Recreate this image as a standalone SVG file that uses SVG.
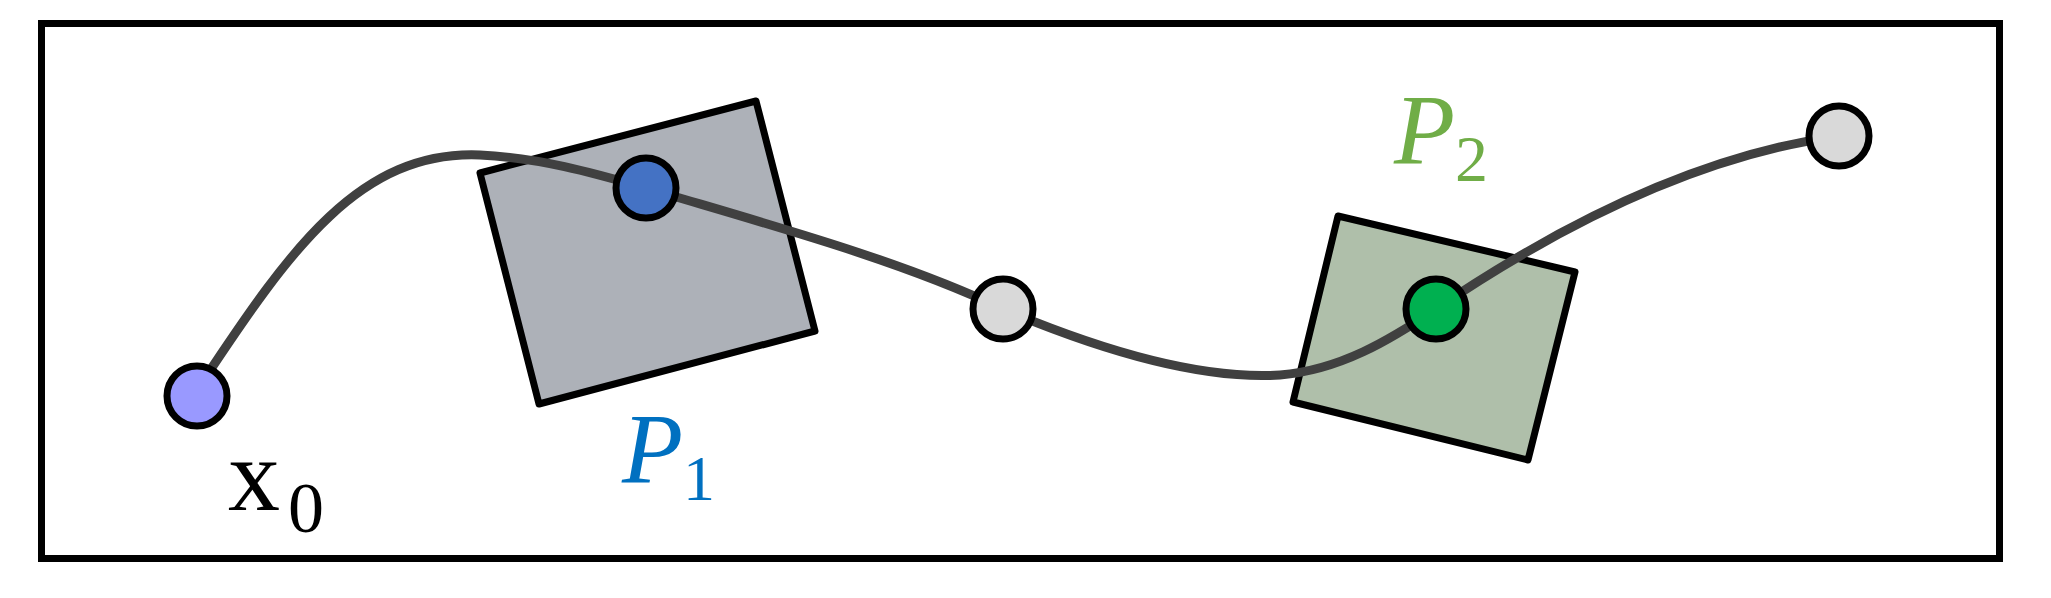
<svg xmlns="http://www.w3.org/2000/svg" width="2051" height="598" viewBox="0 0 2051 598">
<style>
.node{stroke:#000;stroke-width:7;stroke-linejoin:round}
.pt{stroke:#000;stroke-width:7}
.curve{fill:none;stroke:#404040;stroke-width:9;stroke-linecap:round}
.lbl{font-family:"Liberation Serif","DejaVu Serif",serif}
</style>
<rect x="0" y="0" width="2051" height="598" fill="#fff"/>
<rect id="frame" x="41.5" y="23.5" width="1958" height="535" fill="none" stroke="#000" stroke-width="7"/>
<g id="P1">
<polygon class="node" points="480,173 756,101 815,331 539,404" fill="#adb1b8"/>
<text class="lbl" x="622" y="482" font-size="100" font-style="italic" fill="#0070c0">P</text>
<text class="lbl" x="683" y="500" font-size="64" fill="#0070c0">1</text>
</g>
<g id="P2">
<polygon class="node" points="1338,216 1575,272 1528,460 1293,402" fill="#afbfaa"/>
<text class="lbl" x="1394" y="163" font-size="100" font-style="italic" fill="#70ad47">P</text>
<text class="lbl" x="1455" y="181" font-size="66" fill="#70ad47">2</text>
</g>
<g id="connectors">
<path class="curve" d="M205,378 C290,250 360,150 480,155 C540,158 590,172 646,188 C770,225 900,260 1003,309 C1100,350 1200,380 1280,375 C1340,370 1390,340 1436,309 C1560,225 1700,155 1839,136"/>
</g>
<g id="x0">
<circle class="pt" cx="197" cy="396" r="30" fill="#9999ff"/>
<text class="lbl" x="228" y="510" font-size="104">x</text>
<text class="lbl" x="288" y="532" font-size="72">0</text>
</g>
<g id="p1pt"><circle class="pt" cx="646" cy="188" r="30" fill="#4472c4"/></g>
<g id="mid"><circle class="pt" cx="1003" cy="309" r="30" fill="#d9d9d9"/></g>
<g id="p2pt"><circle class="pt" cx="1436" cy="309" r="30" fill="#00b050"/></g>
<g id="end"><circle class="pt" cx="1839" cy="136" r="30" fill="#d9d9d9"/></g>
</svg>
